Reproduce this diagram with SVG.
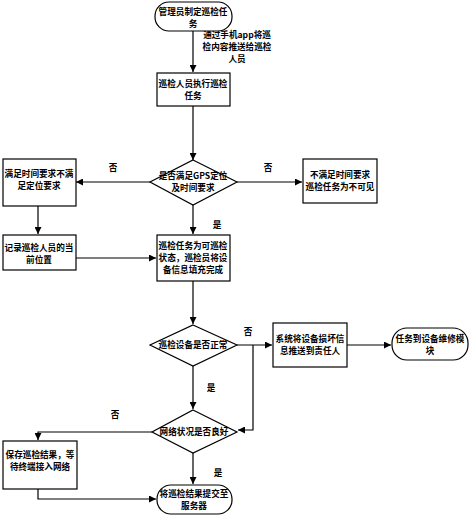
<svg xmlns="http://www.w3.org/2000/svg" width="474" height="516" viewBox="0 0 474 516">
<defs>
<style>
.s{fill:#fff;stroke:#000;stroke-width:1.2}
.c{fill:none;stroke:#000;stroke-width:1.2}
text{font-family:"Noto Sans CJK SC","Liberation Sans",sans-serif;font-size:8.6px;font-weight:bold;fill:#000;text-anchor:middle}
</style>
<marker id="a" viewBox="0 0 10 10" refX="10" refY="5" markerWidth="7" markerHeight="7" orient="auto" markerUnits="userSpaceOnUse"><path d="M0,0L10,5L0,10z" fill="#000"/></marker>
</defs>
<rect width="474" height="516" fill="#fff"/>
<g id="connectors">
<path class="c" d="M193,31V72" marker-end="url(#a)"/>
<path class="c" d="M193,106V160" marker-end="url(#a)"/>
<path class="c" d="M150,182H76" marker-end="url(#a)"/>
<path class="c" d="M237,182H302" marker-end="url(#a)"/>
<path class="c" d="M193,205V234" marker-end="url(#a)"/>
<path class="c" d="M38,206V234" marker-end="url(#a)"/>
<path class="c" d="M76,258H156" marker-end="url(#a)"/>
<path class="c" d="M193,281V324" marker-end="url(#a)"/>
<path class="c" d="M237,345H272" marker-end="url(#a)"/>
<path class="c" d="M253,345V430H238" marker-end="url(#a)"/>
<path class="c" d="M347,345H391" marker-end="url(#a)"/>
<path class="c" d="M193,366V409" marker-end="url(#a)"/>
<path class="c" d="M152,432H38V440" marker-end="url(#a)"/>
<path class="c" d="M193,453V484" marker-end="url(#a)"/>
<path class="c" d="M38,489V499H156" marker-end="url(#a)"/>
<text x="237" y="38">通过手机app将巡</text>
<text x="237" y="50">检内容推送给巡检</text>
<text x="237" y="62">人员</text>
<text x="113" y="171">否</text>
<text x="268" y="171">否</text>
<text x="217" y="228">是</text>
<text x="248" y="335">否</text>
<text x="211" y="391">是</text>
<text x="115" y="418">否</text>
<text x="218" y="476">是</text>
</g>
<g id="n1">
<rect class="s" x="155" y="2" width="77" height="29" rx="14"/>
<text x="193" y="15">管理员制定巡检任</text>
<text x="193" y="27">务</text>
</g>
<g id="n2">
<rect class="s" x="157" y="73" width="73" height="33"/>
<text x="193" y="87">巡检人员执行巡检</text>
<text x="193" y="99">任务</text>
</g>
<g id="n3">
<path class="s" d="M193,160L237,182L193,205L150,182z"/>
<text x="193" y="179">是否满足GPS定位</text>
<text x="193" y="191">及时间要求</text>
</g>
<g id="n4">
<rect class="s" x="3" y="159" width="73" height="47"/>
<text x="39" y="177">满足时间要求不满</text>
<text x="39" y="189">足定位要求</text>
</g>
<g id="n5">
<rect class="s" x="303" y="159" width="74" height="44"/>
<text x="340" y="178">不满足时间要求</text>
<text x="340" y="190">巡检任务为不可见</text>
</g>
<g id="n6">
<rect class="s" x="3" y="235" width="73" height="35"/>
<text x="39" y="251">记录巡检人员的当</text>
<text x="39" y="263">前位置</text>
</g>
<g id="n7">
<rect class="s" x="157" y="235" width="73" height="46"/>
<text x="193" y="249">巡检任务为可巡检</text>
<text x="193" y="261">状态，巡检员将设</text>
<text x="193" y="273">备信息填充完成</text>
</g>
<g id="n8">
<path class="s" d="M193,325L237,345L193,366L150,345z"/>
<text x="193" y="348">巡检设备是否正常</text>
</g>
<g id="n9">
<rect class="s" x="273" y="323" width="74" height="44"/>
<text x="310" y="342">系统将设备损坏信</text>
<text x="310" y="354">息推送到责任人</text>
</g>
<g id="n10">
<rect class="s" x="392" y="328" width="76" height="32" rx="15"/>
<text x="430" y="342">任务到设备维修模</text>
<text x="430" y="354">块</text>
</g>
<g id="n11">
<path class="s" d="M193,410L237,432L193,453L152,432z"/>
<text x="194" y="435">网络状况是否良好</text>
</g>
<g id="n12">
<rect class="s" x="3" y="441" width="74" height="48"/>
<text x="40" y="458">保存巡检结果，等</text>
<text x="40" y="470">待终端接入网络</text>
</g>
<g id="n13">
<rect class="s" x="157" y="485" width="75" height="29" rx="14"/>
<text x="194" y="497">将巡检结果提交至</text>
<text x="194" y="509">服务器</text>
</g>
</svg>
